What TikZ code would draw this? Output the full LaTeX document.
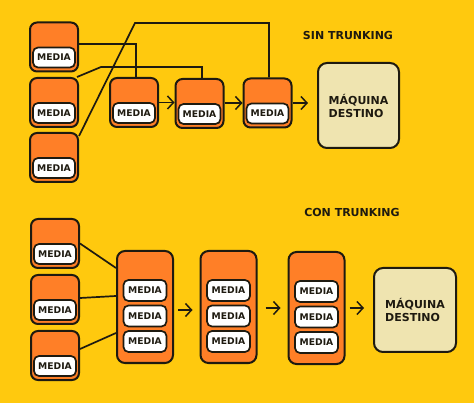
\documentclass[tikz,border=0pt]{standalone}
\usepackage{fontspec}
\setmainfont{DejaVu Sans}
\usetikzlibrary{arrows.meta,calc}
\definecolor{bgyel}{HTML}{FFC90E}
\definecolor{orng}{HTML}{FF7F27}
\definecolor{pale}{HTML}{EFE4B0}
\definecolor{ink}{HTML}{1E1A10}
\tikzset{
  mbox/.style={draw=ink, line width=2pt, fill=orng, rounded corners=7pt, minimum width=48pt, minimum height=49pt, inner sep=0pt},
  tbox/.style={draw=ink, line width=2pt, fill=orng, rounded corners=8pt, minimum width=56pt, minimum height=112pt, inner sep=0pt},
  lab/.style={draw=ink, line width=1.7pt, fill=white, rounded corners=5pt, minimum width=42pt, minimum height=20pt, inner sep=0pt, font=\fontsize{9.2}{10}\selectfont\bfseries, text=ink},
  dest/.style={draw=ink, line width=2pt, fill=pale, rounded corners=9pt, minimum width=81pt, minimum height=85pt, inner sep=0pt, align=left, font=\fontsize{11}{13}\selectfont\bfseries, text=ink},
  ttl/.style={font=\fontsize{11}{13}\selectfont\bfseries, text=ink},
  conn/.style={draw=ink, line width=1.7pt},
  arr/.style={draw=ink, line width=1.5pt, -{Straight Barb[length=6pt,width=13pt,line width=1.5pt]}}
}
\begin{document}
\begin{tikzpicture}[x=1pt,y=-1pt]
\useasboundingbox[fill=bgyel] (0,0) rectangle (474,403);
% ---------- SIN TRUNKING ----------
\node[ttl] (t1) at (348,35) {SIN TRUNKING};
\foreach \n/\x/\y in {m1/54/47, m2/54/102.5, m3/54/157.5, A/134/102.5, B/199.5/103.5, C/267.5/103}{
  \node[mbox] (\n) at (\x,\y) {};
  \node[lab] (\n l) at (\x,\y+10.5) {MEDIA};
}
\node[dest] (D1) at (358.5,105.5) {MÁQUINA\\DESTINO};
\draw[conn] ($(m1.east)+(0,-3)$) -| ($(A.north)+(2,0)$);
\draw[conn] ($(m2.north east)+(-2,0)$) -- (101,67) -| ($(B.north)+(2.5,0)$);
\draw[conn] ($(m3.north east)+(0,4)$) -- (135,23) -| ($(C.north)+(1.5,0)$);
\draw[arr] (A.east) -- (A.east -| B.west);
\draw[arr] (B.east |- C.east) -- (C.west);
\draw[arr, shorten >=9pt] (C.east) -- (C.east -| D1.west);
% ---------- CON TRUNKING ----------
\node[ttl] (t2) at (352,212) {CON TRUNKING};
\foreach \n/\x/\y in {m4/55/243.5, m5/55/299.5, m6/55/355.5}{
  \node[mbox] (\n) at (\x,\y) {};
  \node[lab] (\n l) at (\x,\y+10.5) {MEDIA};
}
\foreach \n/\x/\y in {T1/145/307, T2/228.5/307, T3/316.5/308}{
  \node[tbox] (\n) at (\x,\y) {};
  \node[lab, minimum width=43pt, minimum height=21pt] (\n a) at (\x,\y-16.5) {MEDIA};
  \node[lab, minimum width=43pt, minimum height=21pt] (\n b) at (\x,\y+9) {MEDIA};
  \node[lab, minimum width=43pt, minimum height=21pt] (\n c) at (\x,\y+34.5) {MEDIA};
}
\node[dest, minimum width=82pt, minimum height=84pt] (D2) at (415,310) {MÁQUINA\\DESTINO};
\draw[conn] (m4.east) -- ($(T1.west)+(0,-39)$);
\draw[conn] ($(m5.east)+(0,-1.5)$) -- ($(T1.west)+(0,-11)$);
\draw[conn] ($(m6.east)+(0,-6.5)$) -- ($(T1.west)+(0,26)$);
\draw[arr, shorten <=4pt, shorten >=7pt] ($(T1.east)+(0,3)$) -- ($(T2.west)+(0,3)$);
\draw[arr, shorten <=8pt, shorten >=7pt] ($(T2.east)+(0,1)$) -- ($(T3.west)+(0,0)$);
\draw[arr, shorten <=4pt, shorten >=9pt] (T3.east) -- (T3.east -| D2.west);
\end{tikzpicture}
\end{document}
